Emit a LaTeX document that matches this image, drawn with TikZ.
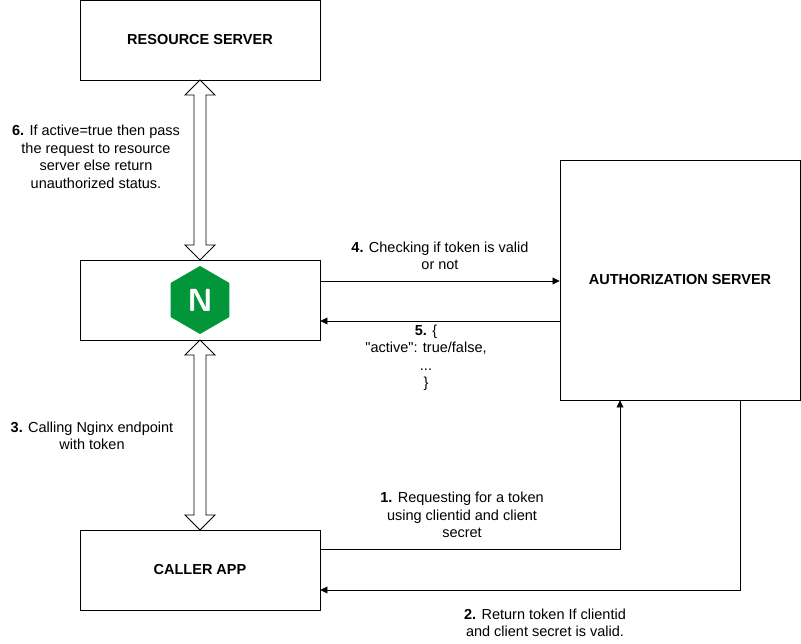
\documentclass[tikz,border=0pt]{standalone}
\usepackage{fontspec}
\setmainfont{Liberation Sans}
\usetikzlibrary{shapes.geometric,arrows.meta}
\definecolor{nginxgreen}{HTML}{009639}
\tikzset{
  box/.style = {draw, thick, minimum width=240pt, font=\fontsize{14.5}{17}\selectfont\bfseries},
  flow/.style = {black, -{Triangle[length=7pt,width=7pt]}},
  hollow/.style = {draw, thick, fill=white},
  note/.style = {align=center, font=\fontsize{14.5}{17.5}\selectfont},
}
% hollow double arrow between two points on x=200
\newcommand\hollowarrow[2]{%
  \draw [hollow] (194,#1+15) -- (185,#1+15) -- (200,#1) -- (215,#1+15) -- (206,#1+15)
    -- (206,#2-15) -- (215,#2-15) -- (200,#2) -- (185,#2-15) -- (194,#2-15) -- cycle;}
\begin{document}
\begin{tikzpicture}[x=1pt,y=-1pt]
\useasboundingbox (0,0) rectangle (801,644);
\node [box, minimum height=80pt] (res) at (200,40) {RESOURCE SERVER};
\node [box, minimum height=80pt] (ngx) at (200,300) {};
\node [box, minimum height=80pt] (app) at (200,570) {CALLER APP};
\node [box, minimum height=240pt] (auth) at (680,280) {AUTHORIZATION SERVER};
% nginx logo
\node [regular polygon, regular polygon sides=6, shape border rotate=30, fill=nginxgreen,
       minimum size=68pt, inner sep=0pt] (logo) at (ngx) {};
\node [text=white, font=\sffamily\bfseries\fontsize{32}{32}\selectfont] at (logo) {N};
% hollow arrows
\hollowarrow{80}{260}
\hollowarrow{340}{530}
% flows
\draw [flow] (320,281) -- (auth.west |- 0,281);
\draw [flow] (auth.west |- 0,321) -- (ngx.east |- 0,321);
\coordinate (c1) at (620,549);
\coordinate (c2) at (740,590);
\draw [flow] (app.east |- c1) -- (c1) -- (auth.south -| c1);
\draw [flow] (auth.south -| c2) -- (c2) -- (app.east |- c2);
% labels
\node [note] at (96,157) {\textbf{6.} If active=true then pass\\the request to resource\\server else return\\unauthorized status.};
\node [note] at (440,256) {\textbf{4.} Checking if token is valid\\or not};
\node [note] at (426,358) {\textbf{5.} \{\\\textquotedbl active\textquotedbl: true/false,\\...\\\}};
\node [note] at (92,436) {\textbf{3.} Calling Nginx endpoint\\with token};
\node [note] at (462,515) {\textbf{1.} Requesting for a token\\using clientid and client\\secret};
\node [note] at (545,623) {\textbf{2.} Return token If clientid\\and client secret is valid.};
\end{tikzpicture}
\end{document}
